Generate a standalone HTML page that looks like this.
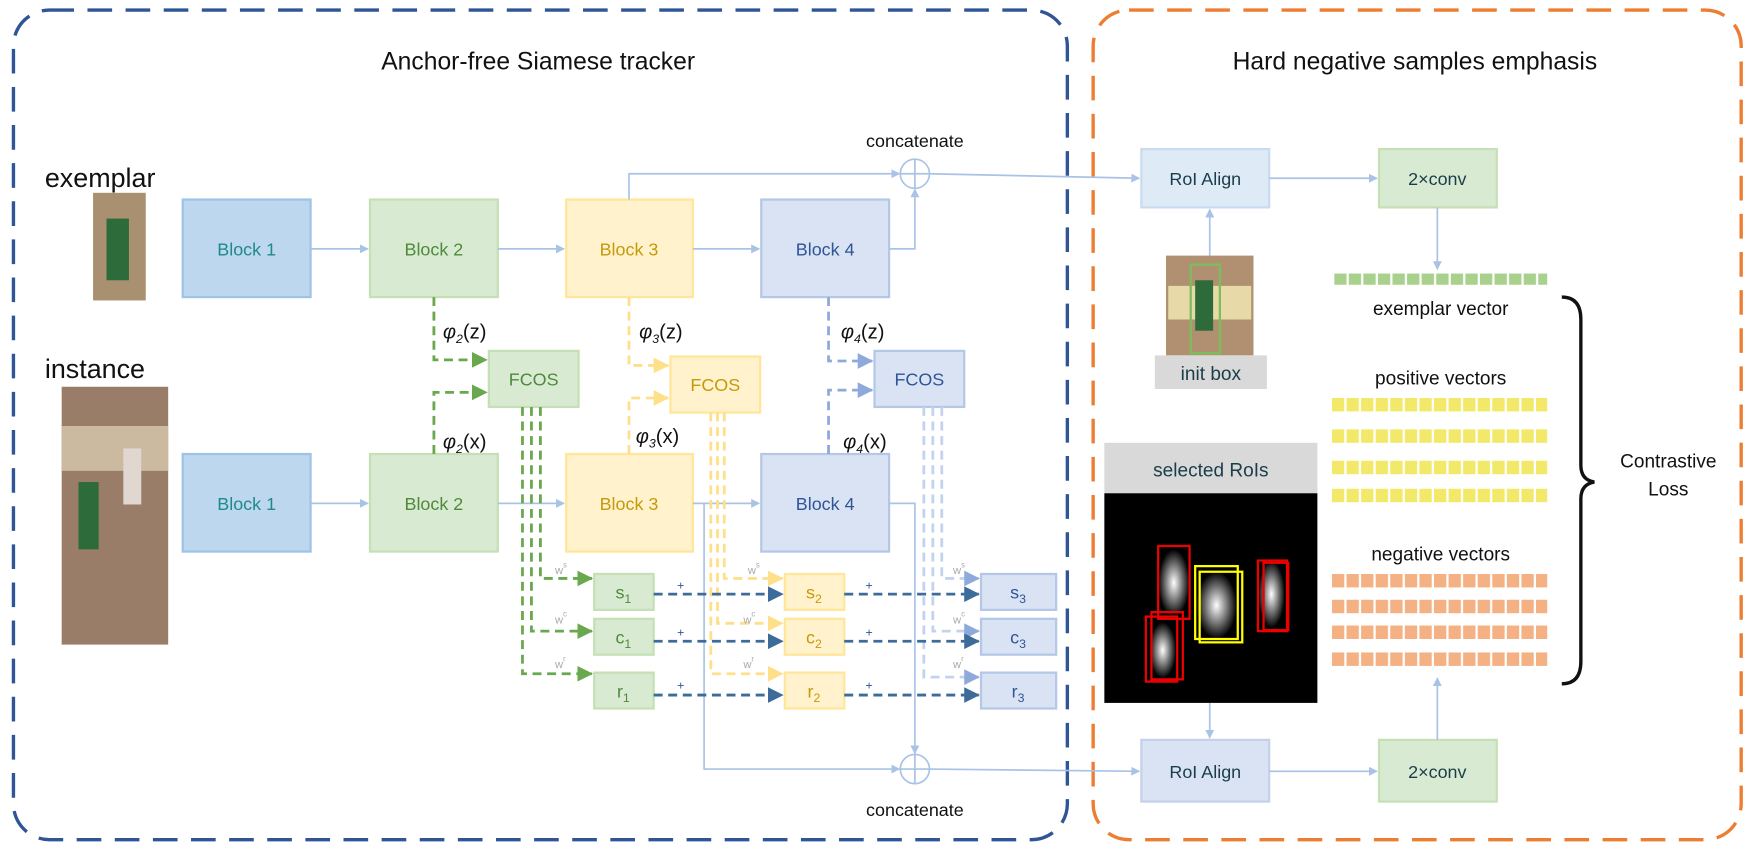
<!DOCTYPE html><html><head><style>body{margin:0;background:#fff}svg{display:block}text{font-family:"Liberation Sans",sans-serif}</style></head><body>
<svg width="1758" height="852" viewBox="0 0 1568 760" preserveAspectRatio="none">
<defs>
<marker id="al" markerWidth="8" markerHeight="8" refX="7" refY="4" orient="auto" markerUnits="userSpaceOnUse"><path d="M0,0L8,4L0,8z" fill="#a9c3e6"/></marker>
<marker id="ag" markerWidth="14" markerHeight="14" refX="13" refY="7" orient="auto" markerUnits="userSpaceOnUse"><path d="M0,0L14,7L0,14z" fill="#6aa84f"/></marker>
<marker id="ay" markerWidth="14" markerHeight="14" refX="13" refY="7" orient="auto" markerUnits="userSpaceOnUse"><path d="M0,0L14,7L0,14z" fill="#ffe08a"/></marker>
<marker id="ab" markerWidth="14" markerHeight="14" refX="13" refY="7" orient="auto" markerUnits="userSpaceOnUse"><path d="M0,0L14,7L0,14z" fill="#8eaadb"/></marker>
<marker id="ad" markerWidth="14" markerHeight="14" refX="13" refY="7" orient="auto" markerUnits="userSpaceOnUse"><path d="M0,0L14,7L0,14z" fill="#3d6b9a"/></marker>
<radialGradient id="g"><stop offset="0" stop-color="#fff"/><stop offset="1" stop-color="#000"/></radialGradient>
<pattern id="py" width="13" height="12" patternUnits="userSpaceOnUse" x="1188" y="0"><rect width="11" height="12" fill="#f2e96b"/></pattern>
<pattern id="po" width="13" height="12" patternUnits="userSpaceOnUse" x="1188" y="0"><rect width="11" height="12" fill="#f4b183"/></pattern>
<pattern id="pg" width="13" height="10" patternUnits="userSpaceOnUse" x="1190" y="0"><rect width="11" height="10" fill="#a9d18e"/></pattern>
</defs>
<rect x="12" y="9" width="940" height="740" rx="32" fill="none" stroke="#2f5597" stroke-width="3" stroke-dasharray="22,12"/>
<rect x="975" y="9" width="578" height="740" rx="32" fill="none" stroke="#ed7d31" stroke-width="3" stroke-dasharray="22,12"/>
<text x="480" y="62" font-size="22" text-anchor="middle" fill="#111">Anchor-free Siamese tracker</text>
<text x="1262" y="62" font-size="22" text-anchor="middle" fill="#111">Hard negative samples emphasis</text>
<text x="40" y="167" font-size="24" fill="#111">exemplar</text>
<text x="40" y="337" font-size="24" fill="#111">instance</text>
<rect x="83" y="172" width="47" height="96" fill="#a89070"/><rect x="95" y="195" width="20" height="55" fill="#2e6b3a"/>
<rect x="55" y="345" width="95" height="230" fill="#9a7d68"/><rect x="55" y="380" width="95" height="40" fill="#cbb9a0"/><rect x="70" y="430" width="18" height="60" fill="#2e6b3a"/><rect x="110" y="400" width="16" height="50" fill="#e0d8d0"/>
<g font-size="16" text-anchor="middle">
<g stroke-width="2">
<rect x="163" y="178" width="114" height="87" fill="#bdd7ee" stroke="#9dc3e6"/><rect x="330" y="178" width="114" height="87" fill="#d9ead3" stroke="#c5e0b4"/><rect x="505" y="178" width="113" height="87" fill="#fff2cc" stroke="#ffe699"/><rect x="679" y="178" width="114" height="87" fill="#dae3f3" stroke="#b4c7e7"/>
<rect x="163" y="405" width="114" height="87" fill="#bdd7ee" stroke="#9dc3e6"/><rect x="330" y="405" width="114" height="87" fill="#d9ead3" stroke="#c5e0b4"/><rect x="505" y="405" width="113" height="87" fill="#fff2cc" stroke="#ffe699"/><rect x="679" y="405" width="114" height="87" fill="#dae3f3" stroke="#b4c7e7"/>
<rect x="436" y="313" width="80" height="50" fill="#d9ead3" stroke="#c5e0b4"/><rect x="598" y="318" width="80" height="50" fill="#fff2cc" stroke="#ffe699"/><rect x="780" y="313" width="80" height="50" fill="#dae3f3" stroke="#b4c7e7"/>
<rect x="530" y="512" width="53" height="32" fill="#d9ead3" stroke="#c5e0b4"/><rect x="530" y="552" width="53" height="32" fill="#d9ead3" stroke="#c5e0b4"/><rect x="530" y="600" width="53" height="32" fill="#d9ead3" stroke="#c5e0b4"/>
<rect x="700" y="512" width="53" height="32" fill="#fff2cc" stroke="#ffe699"/><rect x="700" y="552" width="53" height="32" fill="#fff2cc" stroke="#ffe699"/><rect x="700" y="600" width="53" height="32" fill="#fff2cc" stroke="#ffe699"/>
<rect x="875" y="512" width="67" height="32" fill="#dae3f3" stroke="#b4c7e7"/><rect x="875" y="552" width="67" height="32" fill="#dae3f3" stroke="#b4c7e7"/><rect x="875" y="600" width="67" height="32" fill="#dae3f3" stroke="#b4c7e7"/>
<rect x="1018" y="133" width="114" height="52" fill="#deebf7" stroke="#c9dcef"/><rect x="1230" y="133" width="105" height="52" fill="#d9ead3" stroke="#c5e0b4"/>
<rect x="1018" y="660" width="114" height="55" fill="#dae3f3" stroke="#c3d1ea"/><rect x="1230" y="660" width="105" height="55" fill="#d9ead3" stroke="#c5e0b4"/>
</g>
<g fill="#1f8a8a"><text x="220" y="228">Block 1</text><text x="220" y="455">Block 1</text></g>
<g fill="#4e8a3a"><text x="387" y="228">Block 2</text><text x="387" y="455">Block 2</text><text x="476" y="344">FCOS</text><text x="556" y="534">s<tspan font-size="11" dy="4">1</tspan></text><text x="556" y="574">c<tspan font-size="11" dy="4">1</tspan></text><text x="556" y="622">r<tspan font-size="11" dy="4">1</tspan></text></g>
<g fill="#c59a0a"><text x="561" y="228">Block 3</text><text x="561" y="455">Block 3</text><text x="638" y="349">FCOS</text><text x="726" y="534">s<tspan font-size="11" dy="4">2</tspan></text><text x="726" y="574">c<tspan font-size="11" dy="4">2</tspan></text><text x="726" y="622">r<tspan font-size="11" dy="4">2</tspan></text></g>
<g fill="#2f5597"><text x="736" y="228">Block 4</text><text x="736" y="455">Block 4</text><text x="820" y="344">FCOS</text><text x="908" y="534">s<tspan font-size="11" dy="4">3</tspan></text><text x="908" y="574">c<tspan font-size="11" dy="4">3</tspan></text><text x="908" y="622">r<tspan font-size="11" dy="4">3</tspan></text></g>
<text x="1075" y="165" fill="#1a3d4a">RoI Align</text><text x="1282" y="165" fill="#1a3d4a">2×conv</text>
<text x="1075" y="694" fill="#1a3d4a">RoI Align</text><text x="1282" y="694" fill="#1a3d4a">2×conv</text>
</g>
<g stroke="#a9c3e6" stroke-width="1.5" fill="none">
<line x1="277" y1="222" x2="328" y2="222" marker-end="url(#al)"/><line x1="444" y1="222" x2="503" y2="222" marker-end="url(#al)"/><line x1="618" y1="222" x2="677" y2="222" marker-end="url(#al)"/>
<line x1="277" y1="449" x2="328" y2="449" marker-end="url(#al)"/><line x1="444" y1="449" x2="503" y2="449" marker-end="url(#al)"/><line x1="618" y1="449" x2="677" y2="449" marker-end="url(#al)"/>
<polyline points="561,178 561,155 802,155" marker-end="url(#al)"/><polyline points="793,222 816,222 816,169" marker-end="url(#al)"/>
<line x1="828" y1="155" x2="1016" y2="159" marker-end="url(#al)"/><line x1="1132" y1="159" x2="1228" y2="159" marker-end="url(#al)"/>
<line x1="1282" y1="185" x2="1282" y2="240" marker-end="url(#al)"/><line x1="1079" y1="228" x2="1079" y2="187" marker-end="url(#al)"/>
<polyline points="628,449 628,686 802,686" marker-end="url(#al)"/><polyline points="793,449 816,449 816,672" marker-end="url(#al)"/>
<line x1="828" y1="686" x2="1016" y2="688" marker-end="url(#al)"/><line x1="1132" y1="688" x2="1228" y2="688" marker-end="url(#al)"/>
<line x1="1079" y1="627" x2="1079" y2="658" marker-end="url(#al)"/><line x1="1282" y1="660" x2="1282" y2="605" marker-end="url(#al)"/>
<circle cx="816" cy="155" r="13" fill="#fff"/><path d="M803,155h26M816,142v26"/>
<circle cx="816" cy="686" r="13" fill="#fff"/><path d="M803,686h26M816,673v26"/>
</g>
<g font-size="16" fill="#111" text-anchor="middle"><text x="816" y="131">concatenate</text><text x="816" y="728">concatenate</text></g>
<g stroke-width="2.5" fill="none" stroke-dasharray="8,5">
<g stroke="#6aa84f"><polyline points="387,265 387,321 434,321" marker-end="url(#ag)"/><polyline points="387,405 387,350 434,350" marker-end="url(#ag)"/>
<polyline points="482,363 482,516 528,516" marker-end="url(#ag)"/><polyline points="474,363 474,563 528,563" marker-end="url(#ag)"/><polyline points="466,363 466,601 528,601" marker-end="url(#ag)"/></g>
<g stroke="#ffe08a"><polyline points="561,265 561,326 596,326" marker-end="url(#ay)"/><polyline points="561,405 561,355 596,355" marker-end="url(#ay)"/>
<polyline points="646,368 646,516 698,516" marker-end="url(#ay)"/><polyline points="640,368 640,556 698,556" marker-end="url(#ay)"/><polyline points="634,368 634,601 698,601" marker-end="url(#ay)"/></g>
<g stroke="#8eaadb"><polyline points="739,265 739,322 778,322" marker-end="url(#ab)"/><polyline points="739,405 739,348 778,348" marker-end="url(#ab)"/></g>
<g stroke="#c3d3ee"><polyline points="840,363 840,516 873,516" marker-end="url(#ab)"/><polyline points="832,363 832,563 873,563" marker-end="url(#ab)"/><polyline points="824,363 824,604 873,604" marker-end="url(#ab)"/></g>
<g stroke="#3d6b9a"><line x1="583" y1="530" x2="698" y2="530" marker-end="url(#ad)"/><line x1="583" y1="572" x2="698" y2="572" marker-end="url(#ad)"/><line x1="583" y1="620" x2="698" y2="620" marker-end="url(#ad)"/>
<line x1="753" y1="530" x2="873" y2="530" marker-end="url(#ad)"/><line x1="753" y1="572" x2="873" y2="572" marker-end="url(#ad)"/><line x1="753" y1="620" x2="873" y2="620" marker-end="url(#ad)"/></g>
</g>
<g font-size="18" fill="#111" font-family="Liberation Serif" font-style="italic">
<text x="395" y="302">φ<tspan font-size="11" dy="4">2</tspan><tspan dy="-4" font-style="normal">(z)</tspan></text><text x="395" y="400">φ<tspan font-size="11" dy="4">2</tspan><tspan dy="-4" font-style="normal">(x)</tspan></text>
<text x="570" y="302">φ<tspan font-size="11" dy="4">3</tspan><tspan dy="-4" font-style="normal">(z)</tspan></text><text x="567" y="395">φ<tspan font-size="11" dy="4">3</tspan><tspan dy="-4" font-style="normal">(x)</tspan></text>
<text x="750" y="302">φ<tspan font-size="11" dy="4">4</tspan><tspan dy="-4" font-style="normal">(z)</tspan></text><text x="752" y="400">φ<tspan font-size="11" dy="4">4</tspan><tspan dy="-4" font-style="normal">(x)</tspan></text>
</g>
<g font-size="10" fill="#aaa"><text x="495" y="512">w<tspan font-size="7" dy="-6">s</tspan></text><text x="495" y="556">w<tspan font-size="7" dy="-6">c</tspan></text><text x="495" y="596">w<tspan font-size="7" dy="-6">r</tspan></text>
<text x="667" y="512">w<tspan font-size="7" dy="-6">s</tspan></text><text x="663" y="556">w<tspan font-size="7" dy="-6">c</tspan></text><text x="663" y="596">w<tspan font-size="7" dy="-6">r</tspan></text>
<text x="850" y="512">w<tspan font-size="7" dy="-6">s</tspan></text><text x="850" y="556">w<tspan font-size="7" dy="-6">c</tspan></text><text x="850" y="596">w<tspan font-size="7" dy="-6">r</tspan></text></g>
<g font-size="11" fill="#2f5597"><text x="604" y="526">+</text><text x="604" y="568">+</text><text x="604" y="615">+</text><text x="772" y="526">+</text><text x="772" y="568">+</text><text x="772" y="615">+</text></g>
<rect x="1040" y="228" width="78" height="89" fill="#b09070"/><rect x="1042" y="255" width="74" height="30" fill="#e8d9a8"/><rect x="1062" y="236" width="26" height="79" fill="none" stroke="#7bbf5a" stroke-width="2"/><rect x="1066" y="250" width="16" height="45" fill="#2e6b3a"/>
<rect x="1030" y="317" width="100" height="30" fill="#d9d9d9"/><text x="1080" y="339" font-size="17" text-anchor="middle" fill="#1a3d4a">init box</text>
<rect x="985" y="395" width="190" height="45" fill="#d9d9d9"/><text x="1080" y="425" font-size="17" text-anchor="middle" fill="#1a3d4a">selected RoIs</text>
<rect x="985" y="440" width="190" height="187" fill="#000"/>
<ellipse cx="1047" cy="520" rx="14" ry="30" fill="url(#g)"/><ellipse cx="1085" cy="540" rx="18" ry="30" fill="url(#g)"/><ellipse cx="1134" cy="530" rx="12" ry="30" fill="url(#g)"/><ellipse cx="1037" cy="580" rx="12" ry="25" fill="url(#g)"/>
<g fill="none" stroke="#e00" stroke-width="2"><rect x="1033" y="487" width="28" height="65"/><rect x="1122" y="500" width="26" height="63"/><rect x="1127" y="502" width="22" height="60"/><rect x="1022" y="550" width="28" height="58"/><rect x="1027" y="546" width="28" height="60"/></g>
<g fill="none" stroke="#ff0" stroke-width="2"><rect x="1066" y="505" width="38" height="65"/><rect x="1070" y="510" width="38" height="63"/></g>
<rect x="1190" y="244" width="190" height="10" fill="url(#pg)"/>
<rect x="1188" y="355" width="192" height="12" fill="url(#py)"/><rect x="1188" y="383" width="192" height="12" fill="url(#py)"/><rect x="1188" y="411" width="192" height="12" fill="url(#py)"/><rect x="1188" y="436" width="192" height="12" fill="url(#py)"/>
<rect x="1188" y="512" width="192" height="12" fill="url(#po)"/><rect x="1188" y="535" width="192" height="12" fill="url(#po)"/><rect x="1188" y="558" width="192" height="12" fill="url(#po)"/><rect x="1188" y="582" width="192" height="12" fill="url(#po)"/>
<g font-size="17" fill="#111" text-anchor="middle"><text x="1285" y="281">exemplar vector</text><text x="1285" y="343">positive vectors</text><text x="1285" y="500">negative vectors</text><text x="1488" y="417">Contrastive</text><text x="1488" y="442">Loss</text></g>
<path d="M1393,265 Q1410,265 1410,285 L1410,415 Q1410,428 1422,430 Q1410,432 1410,445 L1410,590 Q1410,610 1393,610" fill="none" stroke="#111" stroke-width="3"/>
</svg>
</body></html>
